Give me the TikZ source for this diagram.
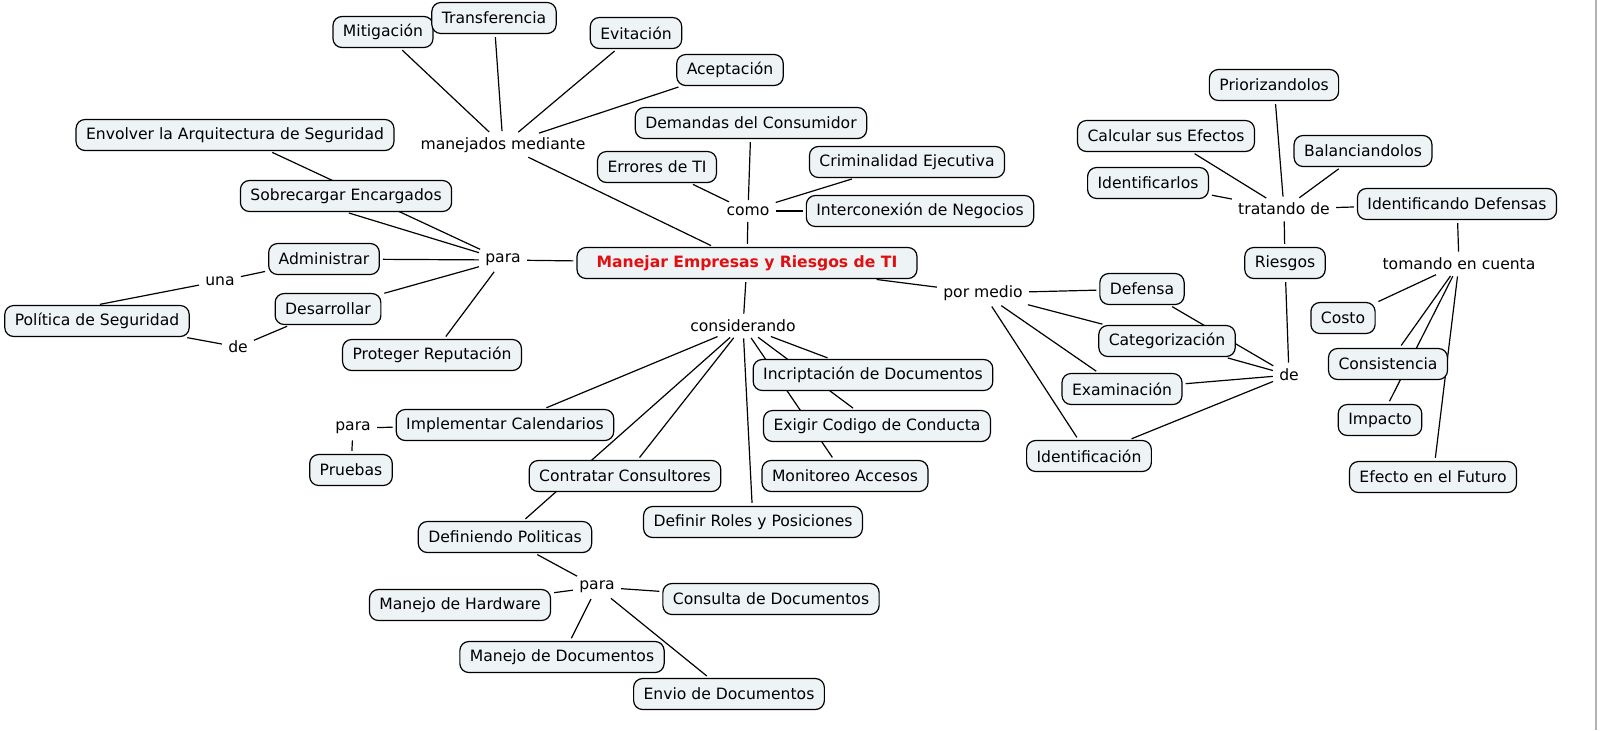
\documentclass[tikz,border=0pt]{standalone}
\usepackage{fontspec}
\setmainfont{DejaVu Sans}
\pgfdeclarelayer{bg}
\pgfsetlayers{bg,main}
\definecolor{boxfill}{HTML}{EEF3F6}
\definecolor{mainred}{HTML}{E01010}
\begin{document}
\begin{tikzpicture}[x=0.5pt,y=-0.5pt,
  concept/.style={draw=black,fill=boxfill,rounded corners=4.5pt,line width=0.6pt,minimum height=15.5pt,inner xsep=5pt,font=\fontsize{7.8}{9}\selectfont},
  lbl/.style={inner sep=1.5pt,font=\fontsize{7.8}{9}\selectfont},
  ln/.style={line width=0.6pt,shorten <=1.5pt,shorten >=1.5pt}]
\useasboundingbox (0,0) rectangle (1600,730);
\draw[gray!60,line width=0.8pt] (1596,0) -- (1596,730);
% concepts
\node[concept] (mit) at (383,32) {Mitigación};
\node[concept] (tra) at (494,18) {Transferencia};
\node[concept] (evi) at (636,33) {Evitación};
\node[concept] (ace) at (730,70) {Aceptación};
\node[lbl] (man) at (503,145) {manejados mediante};
\node[concept] (env) at (235,135) {Envolver la Arquitectura de Seguridad};
\node[concept] (sob) at (346,196) {Sobrecargar Encargados};
\node[concept] (dem) at (751,123) {Demandas del Consumidor};
\node[concept] (err) at (657,167) {Errores de TI};
\node[concept] (cri) at (907,162) {Criminalidad Ejecutiva};
\node[lbl] (como) at (748,211) {como};
\node[concept] (int) at (920,211) {Interconexión de Negocios};
\node[lbl] (para1) at (503,260) {para};
\node[concept,font=\fontsize{7.8}{9}\selectfont\bfseries,text=mainred,minimum width=170pt] (main) at (747,263) {Manejar Empresas y Riesgos de TI};
\node[concept] (adm) at (324,259) {Administrar};
\node[lbl] (una) at (220,281) {una};
\node[concept] (des) at (328,309) {Desarrollar};
\node[concept] (pol) at (97,321) {Política de Seguridad};
\node[lbl] (de1) at (238,347) {de};
\node[concept] (pro) at (432,355) {Proteger Reputación};
\node[lbl] (cons) at (743,326) {considerando};
\node[lbl] (pm) at (983,293) {por medio};
\node[concept] (def) at (1142,289) {Defensa};
\node[concept] (cat) at (1167,341) {Categorización};
\node[concept] (exa) at (1122,389) {Examinación};
\node[concept] (ide) at (1089,456) {Identificación};
\node[lbl] (de2) at (1289,375) {de};
\node[concept] (rie) at (1285,263) {Riesgos};
\node[lbl] (tra2) at (1284,209) {tratando de};
\node[concept] (idf) at (1148,183) {Identificarlos};
\node[concept] (cal) at (1166,136) {Calcular sus Efectos};
\node[concept] (pri) at (1274,85) {Priorizandolos};
\node[concept] (bal) at (1363,151) {Balanciandolos};
\node[concept] (idd) at (1457,204) {Identificando Defensas};
\node[lbl] (tom) at (1459,264) {tomando en cuenta};
\node[concept] (cos) at (1343,318) {Costo};
\node[concept] (csi) at (1388,364) {Consistencia};
\node[concept] (imp) at (1380,420) {Impacto};
\node[concept] (efe) at (1433,477) {Efecto en el Futuro};
\node[concept] (inc) at (873,375) {Incriptación de Documentos};
\node[concept] (exi) at (877,426) {Exigir Codigo de Conducta};
\node[concept] (mon) at (845,476) {Monitoreo Accesos};
\node[concept] (imc) at (505,425) {Implementar Calendarios};
\node[lbl] (para2) at (353,428) {para};
\node[concept] (pru) at (351,470) {Pruebas};
\node[concept] (con) at (625,476) {Contratar Consultores};
\node[concept] (rol) at (753,522) {Definir Roles y Posiciones};
\node[concept] (dpo) at (505,537) {Definiendo Politicas};
\node[lbl] (para3) at (597,587) {para};
\node[concept] (hw) at (460,605) {Manejo de Hardware};
\node[concept] (cdo) at (771,599) {Consulta de Documentos};
\node[concept] (mdo) at (562,657) {Manejo de Documentos};
\node[concept] (edo) at (729,694) {Envio de Documentos};
\begin{pgfonlayer}{bg}
\foreach \a in {mit,tra,evi,ace} \draw[ln] (\a) -- (man);
\draw[ln] (man) -- (main);
\draw[ln] (main) -- (como);
\foreach \a in {dem,err,cri,int} \draw[ln] (como) -- (\a);
\draw[ln] (env) -- (para1);
\draw[ln] (sob.south) -- (para1);
\draw[ln] (para1) -- (main);
\foreach \a in {adm,des,pro} \draw[ln] (para1) -- (\a);
\draw[ln] (adm) -- (una); \draw[ln] (una) -- (pol.north);
\draw[ln] (des) -- (de1); \draw[ln] (de1) -- (pol);
\draw[ln] (main) -- (pm);
\foreach \a in {def,cat,exa,ide} \draw[ln] (pm) -- (\a);
\foreach \a in {def,cat,exa,ide} \draw[ln] (\a) -- (de2);
\draw[ln] (de2) -- (rie);
\draw[ln] (rie) -- (tra2);
\foreach \a in {idf,cal,pri,bal,idd} \draw[ln] (tra2) -- (\a);
\draw[ln] (idd) -- (tom);
\foreach \a in {cos,csi,imp,efe} \draw[ln] (tom) -- (\a);
\draw[ln] (main) -- (cons);
\foreach \a in {imc,con,rol,inc,exi,mon,dpo} \draw[ln] (cons) -- (\a);
\draw[ln] (imc) -- (para2); \draw[ln] (para2) -- (pru);
\draw[ln] (dpo) -- (para3);
\foreach \a in {hw,cdo,mdo,edo} \draw[ln] (para3) -- (\a);
\end{pgfonlayer}
\end{tikzpicture}
\end{document}
